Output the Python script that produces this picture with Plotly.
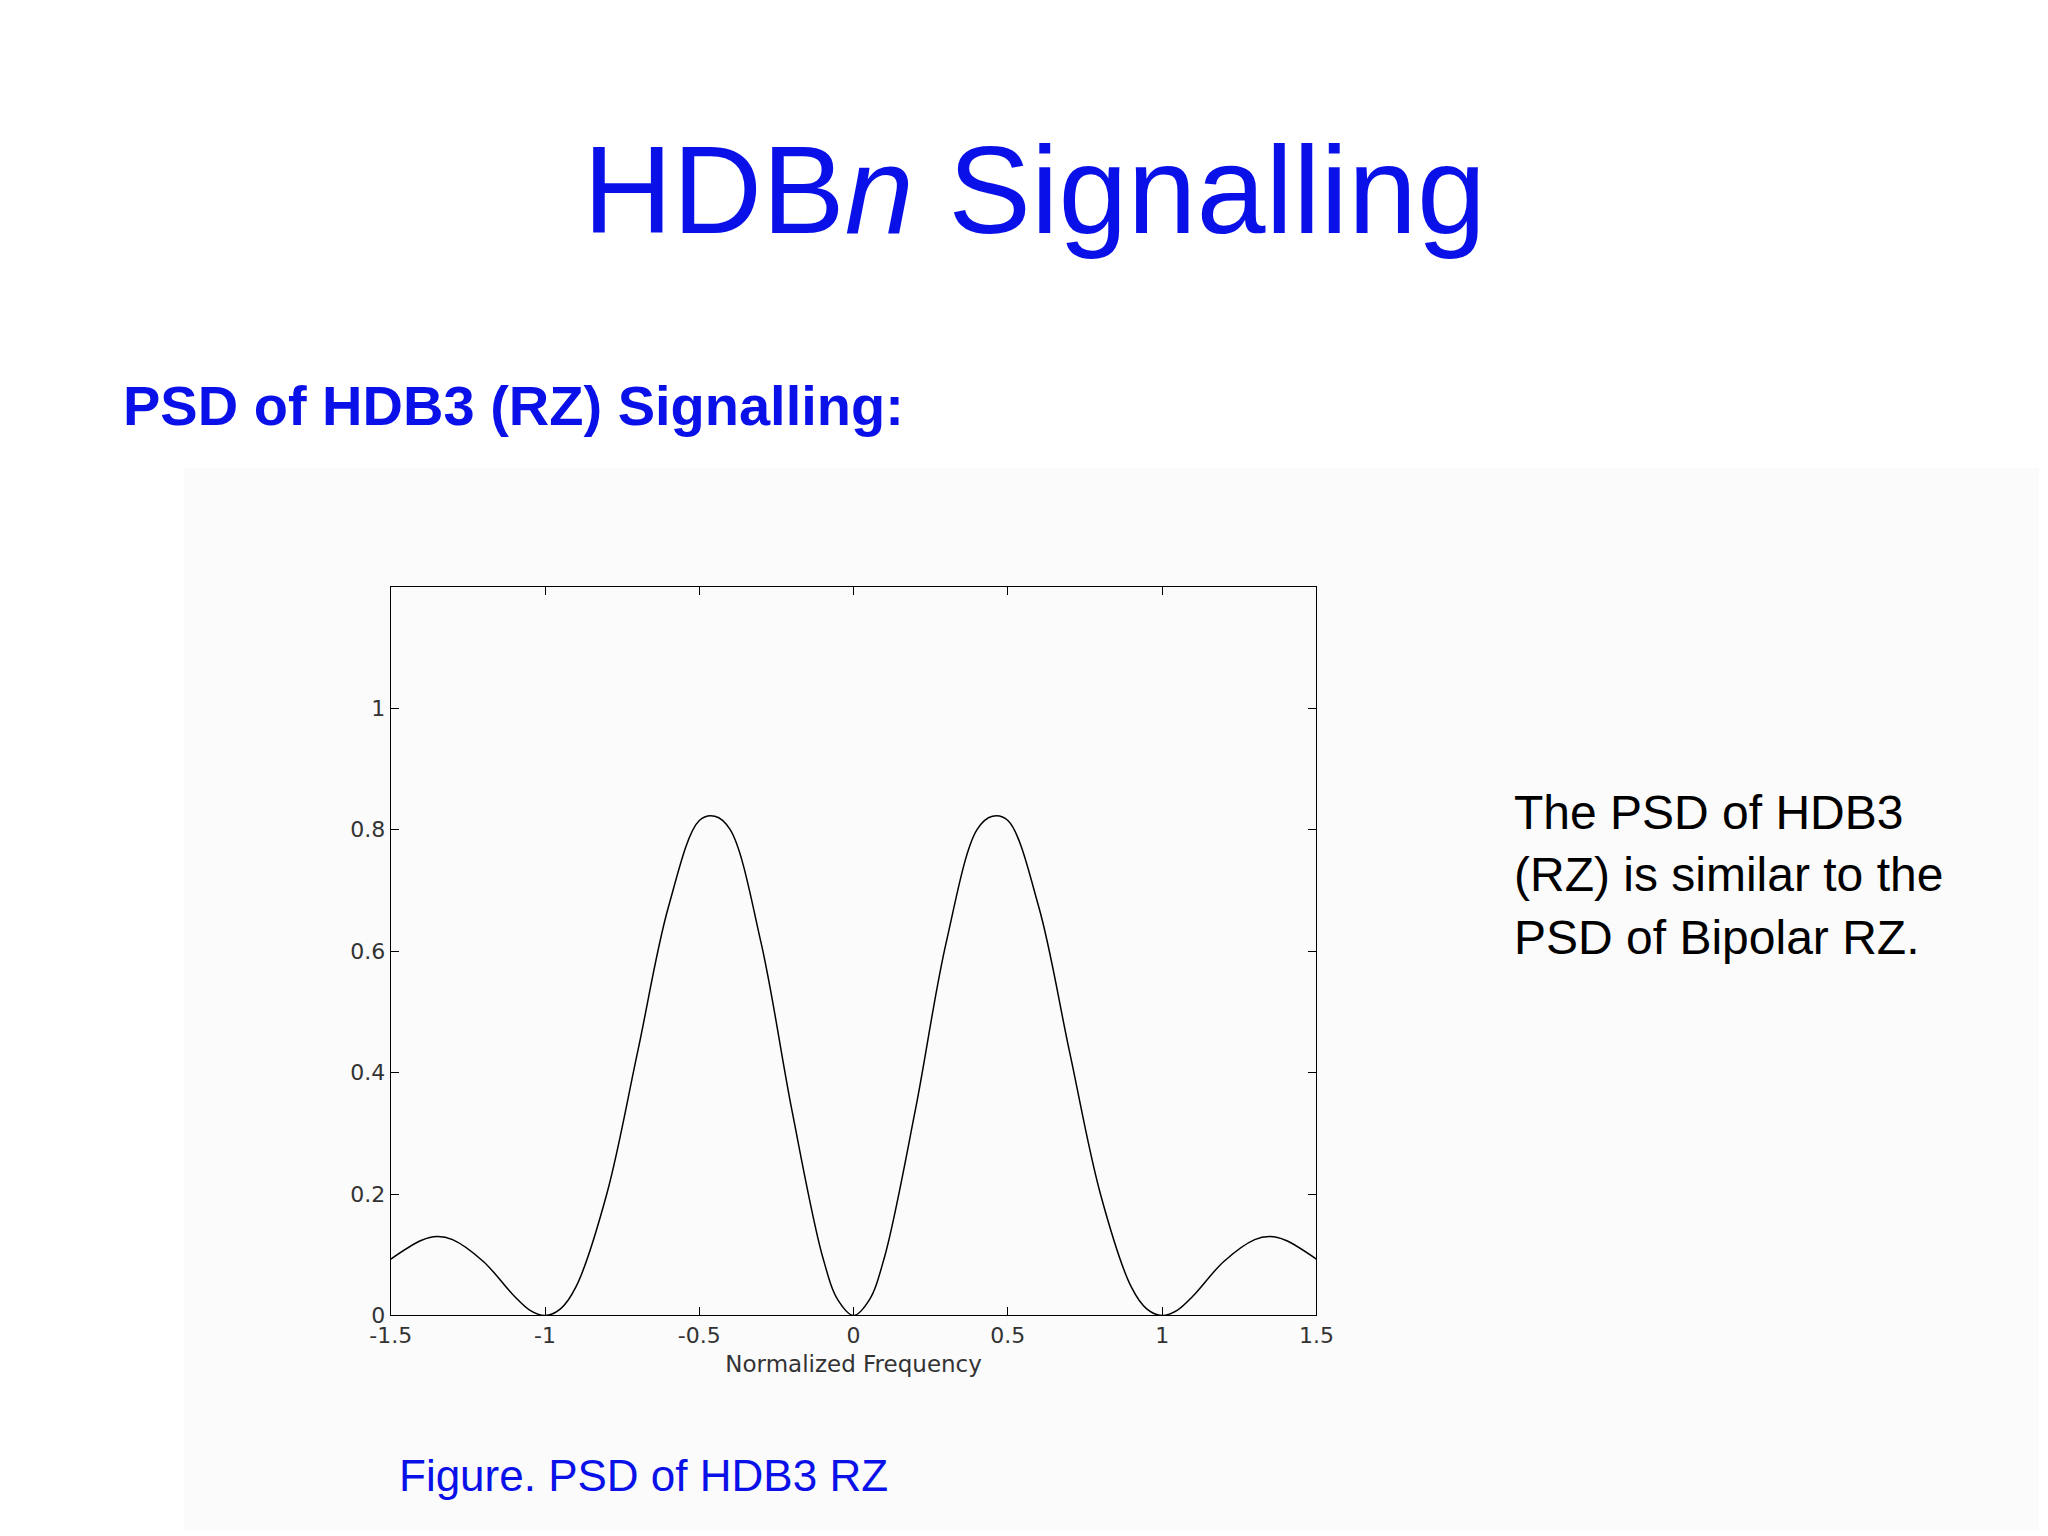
import plotly.graph_objects as go

# PSD of HDB3 RZ (symmetric)
freq_pos = [0.0, 0.05, 0.1, 0.2, 0.3, 0.4, 0.45, 0.5, 0.6, 0.7, 0.8, 0.9, 0.95, 1.0,
            1.05, 1.1, 1.2, 1.3, 1.35, 1.4, 1.5]
psd_pos = [0.0, 0.025, 0.096, 0.338, 0.614, 0.80, 0.822, 0.815, 0.673, 0.434, 0.20, 0.047, 0.011, 0.0,
           0.009, 0.032, 0.089, 0.125, 0.13, 0.124, 0.093]

freq = [-f for f in freq_pos[:0:-1]] + freq_pos
psd = psd_pos[:0:-1] + psd_pos

x_ticks = [-1.5, -1, -0.5, 0, 0.5, 1, 1.5]
y_ticks = [0, 0.2, 0.4, 0.6, 0.8, 1]

fig = go.Figure()
fig.add_trace(go.Scatter(x=freq, y=psd, mode="lines", line=dict(color="black", width=1.5, shape="spline"),
                         showlegend=False, hoverinfo="skip"))

axis_common = dict(showgrid=False, zeroline=False, showline=True, linecolor="black", linewidth=1.2,
                   mirror="ticks", ticks="inside", ticklen=8, tickcolor="black",
                   tickfont=dict(family="DejaVu Sans", size=22, color="#333"))
fig.update_xaxes(range=[-1.5, 1.5], tickvals=x_ticks, ticktext=["-1.5", "-1", "-0.5", "0", "0.5", "1", "1.5"],
                 title=dict(text="Normalized Frequency", font=dict(family="DejaVu Sans", size=23, color="#333"),
                            standoff=8), **axis_common)
fig.update_yaxes(range=[0, 1.2], tickvals=y_ticks, ticktext=["0", "0.2", "0.4", "0.6", "0.8", "1"], **axis_common)

fig.add_shape(type="rect", xref="paper", yref="paper", x0=0.077, x1=1.0, y0=0.0, y1=0.698,
              fillcolor="#fbfbfb", line=dict(width=0), layer="below")

fig.update_layout(
    width=2048, height=1536, paper_bgcolor="white", plot_bgcolor="white",
    margin=dict(l=0, r=0, t=0, b=0),
    xaxis=dict(domain=[0.18, 0.6405]), yaxis=dict(domain=[0.1415, 0.62]),
)

ann = [
    dict(x=0.5, y=0.927, text="HDB<i>n</i> Signalling", font=dict(family="Liberation Sans", size=124, color="#0a10e8")),
    dict(x=0.046, y=0.761, text="<b>PSD of HDB3 (RZ) Signalling:</b>", xanchor="left",
         font=dict(family="Liberation Sans", size=56, color="#0a10e8")),
    dict(x=0.738, y=0.431, text="The PSD of HDB3<br>(RZ) is similar to the<br>PSD of Bipolar RZ.", xanchor="left",
         align="left", font=dict(family="Liberation Sans", size=48, color="black")),
    dict(x=0.183, y=0.019, text="Figure. PSD of HDB3 RZ", xanchor="left",
         font=dict(family="Liberation Sans", size=44, color="#0a10e8")),
]
for a in ann:
    fig.add_annotation(xref="paper", yref="paper", showarrow=False, **a)

fig.write_html("out.html")
